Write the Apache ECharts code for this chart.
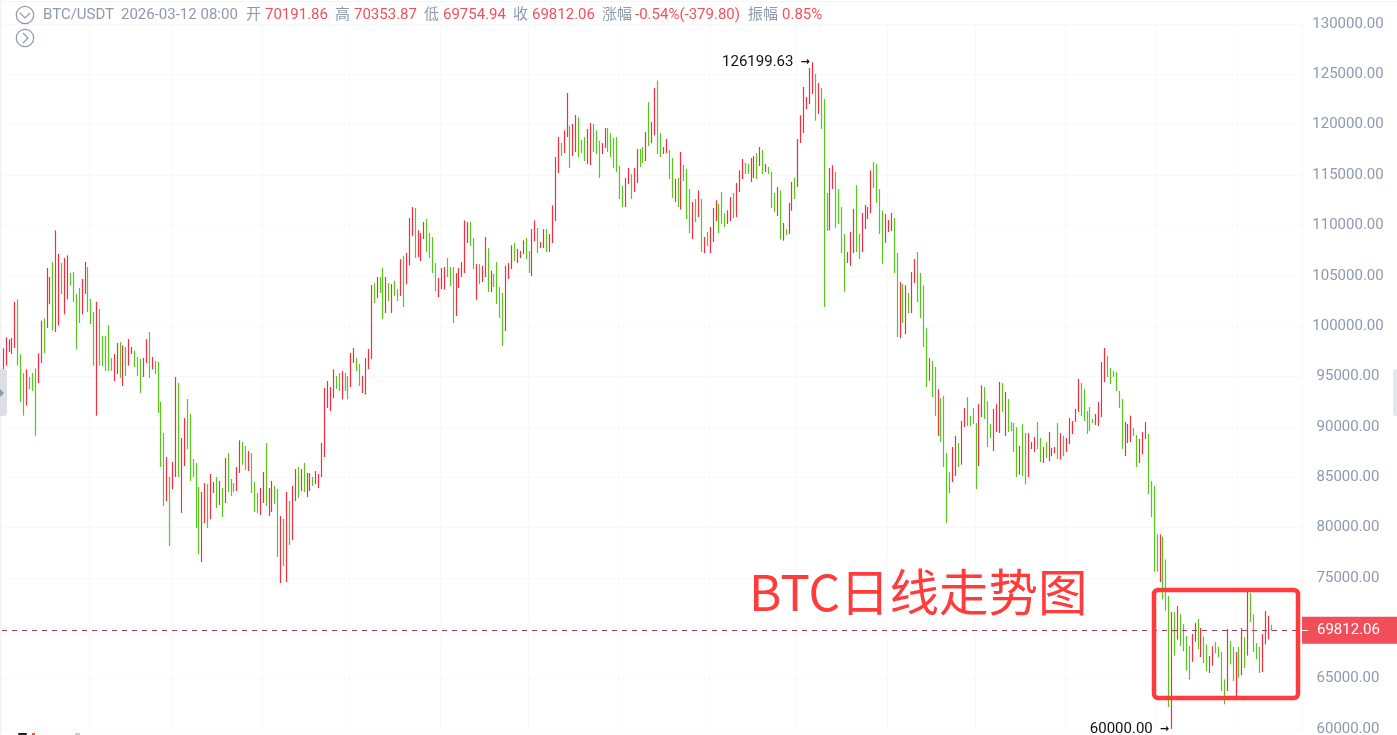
<!DOCTYPE html>
<html><head><meta charset="utf-8"><style>html,body{margin:0;padding:0;background:#fff;overflow:hidden}#c{width:1397px;height:735px}</style>
<script src="https://cdn.jsdelivr.net/npm/echarts@6/dist/echarts.min.js"></script></head><body><div id="c"></div>
<script>
// Daily BTC/USDT, 2025-01-02 .. 2026-03-12. At this zoom each bar only shows its high-low range and direction.
const highs=[97800,98890,98690,98820,102400,102660,97200,95350,95710,94950,
95350,95810,97300,100540,100780,105770,104880,106370,109510,107160,
106270,106770,107030,105280,105380,103190,103790,104680,106370,105870,
102700,101400,102400,101700,99020,99020,100080,96840,97230,98330,
98430,98090,97930,98720,97930,97560,96940,96740,96840,98720,
99420,96940,96540,96440,92470,89390,87010,85020,86510,94950,
94350,88890,90880,92770,91280,86810,86410,84030,83530,84420,
84330,85320,84520,85020,84620,83930,86910,87400,84820,84420,
86010,88660,88500,88100,87600,87400,84520,83430,83930,85520,
88400,83930,84620,84130,83830,81150,80850,83530,82640,84130,
85810,86010,85810,86410,85420,85420,85020,85620,85320,88400,
93860,94550,93960,95710,95050,95350,95550,95350,95050,97330,
97830,96830,96240,95080,96830,97730,104080,104280,104880,104880,
105770,104880,104280,104180,104510,103680,106660,106990,107260,110730,
111830,111730,109510,109240,110340,110630,109240,108850,106270,104780,
105770,105870,106760,105870,105870,105270,105770,106360,110500,110340,
110340,108750,106170,106170,106000,108850,107750,105500,105170,106360,
103880,103290,106000,106270,108020,108250,107660,107460,108520,108750,
107460,109640,110500,109740,108350,109640,109640,109150,111990,116790,
118780,118180,119440,123150,119900,120070,120960,120760,118480,118780,
119570,120170,120070,119440,118410,118180,119670,119670,119170,118680,
118780,115930,113940,114710,115700,115100,115700,117590,117590,117780,
119270,122250,120270,123640,124400,119170,117780,118580,117490,116690,
114610,114710,117290,116000,115600,113610,112330,112620,113490,112620,
108850,109350,109840,111730,112490,112130,113320,111230,111500,112820,
113220,114210,115470,116600,116200,116100,116700,116890,117190,117790,
117490,116100,115800,115310,113220,113820,113490,110240,109650,112230,
114310,114710,118580,120930,123750,122750,125630,126199.63,125040,124140,
123650,122550,113220,115700,115970,115310,113620,111830,109150,107360,
109350,111630,113980,109150,111230,112030,111830,115470,116300,116100,
113620,111470,111140,110540,111230,110740,107260,104380,104180,104050,
103290,105380,106670,107360,105280,104050,99810,96830,96540,95940,
93750,92860,93090,87400,85510,88000,89120,88390,90580,91870,
92960,91070,91870,90380,92260,94120,93950,92560,90280,91770,
92260,94450,94350,93460,92760,90480,90380,89980,88130,90280,
89390,89390,88490,88990,90480,88890,88000,88490,89480,87900,
88000,90380,89390,89120,88890,90870,90580,91770,94750,94350,
93750,91570,91970,90780,91270,92460,96440,97830,97060,95840,
95540,95440,93560,92760,90480,90280,91110,89880,89190,88790,
89480,90480,89290,84620,84120,79330,79330,79100,76840,73200,
71610,71610,72210,71380,70420,69230,68240,69430,70520,70920,
70030,69170,68400,67250,68210,68640,68170,67640,64930,69930,
68740,68140,67640,68140,70030,69130,73670,73500,71380,68540,
68140,69430,71710,71220,70353.87];
const lows=[95740,96080,97430,97230,97830,96080,92470,91110,92100,93730,
93560,89120,94350,96340,97330,99820,102170,99550,99420,100050,
103190,101170,102660,104020,102400,97700,100310,101170,103190,101400,
100180,96080,91110,96080,96040,95550,95550,95550,94550,95250,
94850,94060,95050,96080,97230,95940,95050,93360,94950,96340,
94850,95710,95250,91380,86010,82140,82640,78170,83800,85020,
85020,81450,86110,87770,84620,85020,79960,77340,76580,80450,
79960,80820,83430,81940,82240,81050,82440,83530,83130,83530,
83630,85420,86240,85720,85620,83430,81540,81450,81250,82440,
82140,81150,81540,82340,77080,74490,76180,74590,78270,78760,
82640,82930,83630,83530,83030,83630,84130,84330,83930,85020,
87010,91870,91570,92860,93760,93560,92730,93560,92730,93950,
96340,95540,94050,93360,93220,95740,96730,102290,102790,103290,
100700,101300,102490,101300,102990,102490,102990,101900,104150,106030,
108950,106760,106860,106460,108650,107360,106760,105270,103490,102890,
103680,103620,104880,103980,100310,101000,103780,104880,105270,108250,
107950,105670,102620,104180,104380,104880,103390,103390,103880,102190,
100800,98020,99510,104680,105670,106460,106270,106760,107160,106660,
105270,104970,108450,107260,107750,107750,107360,107360,108250,110440,
115200,116890,117190,118780,115700,116890,117290,116790,117190,116390,
116100,116000,117290,117090,114710,117090,117690,117290,116790,115700,
115300,112620,111830,111830,114110,112620,113320,114210,115800,116200,
116390,117880,118180,118940,117090,116790,117090,117190,114610,112720,
112320,111830,111590,114410,110630,109240,108650,110340,110840,107360,
107260,107960,107260,108350,110440,109250,110140,109840,110140,110440,
110740,110840,113320,114610,115110,115110,114310,114710,114610,115900,
115110,115310,115110,111730,111330,110940,108620,108490,109020,109150,
111470,112620,113820,118190,119180,121560,122060,123050,120400,121070,
119580,101900,109450,109510,113620,109750,110140,107260,103390,106270,
105970,107260,107360,106670,107360,109650,110640,111230,113720,112230,
109150,106170,108260,109350,109450,105280,98920,98820,100310,99190,
101300,101300,104280,102400,100810,97930,93950,94580,92960,91070,
89090,88490,86010,80450,83430,84520,85120,86010,86240,89980,
90080,90080,90280,83820,86110,90970,90780,88000,88890,87600,
89480,89390,91470,89090,89480,89580,87500,85020,85250,85120,
84290,85020,87800,87500,87800,86500,86410,86900,86600,87100,
87400,86800,86740,87100,87500,88290,89290,90480,91470,91070,
90580,89290,89580,90380,90180,90080,90970,94450,94950,94250,
94950,93560,91870,87800,87100,88390,88490,89090,86010,86410,
87270,88790,83330,81040,75620,75620,74590,72870,71750,62180,
60000,67280,68870,68240,67710,65790,64900,66680,68670,67910,
67150,66550,65760,65560,66290,67540,67110,63770,62450,63770,
66420,64760,63270,65090,65330,66050,67280,70620,67640,66910,
65560,65660,68400,68900,69754.94];
// R = close above open (drawn red), G = close below open (drawn green)
const directions=("RRRRRGGGRG"+"GGRRGRRGRR"+"GRRGGGGRRG"+"GGRGGGGGRR"+"GRGRRGGGRR"+"GRGGGGRGRR"+"GRRGGGGGRR"+"GRRGRGRGGG"+"RRGGRGGGRR"+"GRRGGRGRGR"+
"RGRGRRGRRR"+"RRRRGGRGGR"+"RGGRRRRGRG"+"GRGRGGRGRR"+"RGRRRGGGGR"+"RRGGGRRRRR"+"GGRGRRGRGG"+"GGRRRGRRRG"+"GRRGRRGRRR"+"RGRRGRRGGG"+
"RRGGGRRGGG"+"GGGRRGRRGG"+"RGRRGGRRGG"+"RGRGGGRGRG"+"RGRRRGGGRR"+"GRRRGGRRGR"+"GRGGGRGRGR"+"RGRRRRRRGR"+"GGGRRGGGGR"+"RRGGRRRRGG"+
"GGRRRGGRGR"+"GRRGGGGRGG"+"RGGGGRRGRR"+"GGGGRRGGGR"+"RRGRGGGGRG"+"GRRRGGRGRR"+"RGRGRRRRRG"+"GGGGRRRRGG"+"GGGGRRRGGR"+"RRGGGGRGGG"+
"RGRGGGGRRG"+"RGGRRGGGGR"+"GGRGRGRGGG"+"GRRRG");
const yTicks={min:60000,max:130000,step:5000};
const firstDay="2025-01-02";
const dayCount=445; // 435 traded days + 10 empty days on the right
const monthStarts=["2025-02-01","2025-03-01","2025-04-01","2025-05-01","2025-06-01","2025-07-01","2025-08-01","2025-09-01","2025-10-01","2025-11-01","2025-12-01","2026-01-01","2026-02-01","2026-03-01"];
const lastPrice=69812.06, peakDay="2025-10-06", peakPrice=126199.63, troughDay="2026-02-06", troughPrice=60000;
const headerLabels=[["开","70191.86"],["高","70353.87"],["低","69754.94"],["收","69812.06"]];
const UP="#fb2a3f",DOWN="#58c81f",HEAD_RED="#f4505c",MUTED="#8e9aac",GRID="#f7f8fa",MARK="#ff3b3b",DASH="#a83f57";

const categories=[];
for(let i=0;i<dayCount;i++){categories.push(new Date(Date.parse(firstDay+"T00:00:00Z")+i*864e5).toISOString().slice(0,10));}
const rows=highs.map((h,i)=>{const l=lows[i];return directions[i]==="R"?[l,h,l,h]:[h,l,l,h];});

const font="Roboto, 'Noto Sans CJK SC', sans-serif";
const txt=(x,y,text,fill,size)=>({type:"text",z:50,style:{x,y,text,fill,font:(size||15)+"px "+font,textVerticalAlign:"middle"}});
const xs=[[246,265],[335,354],[424,443],[513,532]];
const header=[txt(43,15,"BTC/USDT",MUTED),txt(121,15,"2026-03-12 08:00",MUTED)];
headerLabels.forEach((p,i)=>{header.push(txt(xs[i][0],15,p[0],MUTED));header.push(txt(xs[i][1],15,p[1],HEAD_RED));});
header.push(txt(602,15,"涨幅",MUTED),txt(635,15,"-0.54%(-379.80)",HEAD_RED),txt(748,15,"振幅",MUTED),txt(782,15,"0.85%",HEAD_RED));
const extremeRich={t:{color:"#111",fontSize:15,fontFamily:"Roboto"},a:{color:"#111",fontSize:11,fontWeight:"bold",fontFamily:"DejaVu Sans",padding:[0,0,0,7]}};

const chart=echarts.init(document.getElementById("c"),null,{renderer:"canvas"});
chart.setOption({
 animation:false,backgroundColor:"#fff",
 grid:{left:2,top:24,width:1300,height:705,containLabel:false,outerBoundsMode:"none"},
 xAxis:{type:"category",data:categories,boundaryGap:true,axisLine:{show:false},axisTick:{show:false},axisLabel:{show:false},
  splitLine:{show:true,interval:(i,v)=>monthStarts.includes(v),lineStyle:{color:GRID,width:1}}},
 yAxis:{type:"value",position:"right",min:yTicks.min,max:yTicks.max,interval:yTicks.step,scale:true,
  axisLine:{show:false},axisTick:{show:false},
  axisLabel:{color:MUTED,fontSize:15,fontFamily:"Roboto",margin:46,align:"center",padding:[3,0,0,0],formatter:v=>v.toFixed(2)},
  splitLine:{show:true,lineStyle:{color:GRID,width:1}}},
 series:[{type:"candlestick",data:rows,barWidth:1,clip:false,
  itemStyle:{color:UP,color0:DOWN,borderColor:UP,borderColor0:DOWN,borderWidth:1.2},
  markLine:{silent:true,symbol:"none",animation:false,
   lineStyle:{color:DASH,type:[5,5],width:1,opacity:1},
   label:{show:true,position:"end",distance:0,formatter:()=>lastPrice.toFixed(2),color:"#fff",fontSize:15,fontFamily:"Roboto",backgroundColor:"#f14e5a",padding:[6,18,6,15]},
   data:[{yAxis:lastPrice,lineStyle:{color:DASH,type:[5,5],width:1}}]},
  markPoint:{silent:true,symbol:"circle",symbolSize:0,animation:false,
   label:{show:true,position:"left",distance:3,rich:extremeRich},
   data:[{coord:[peakDay,peakPrice],label:{formatter:"{t|"+peakPrice.toFixed(2)+"}{a|→}"}},
         {coord:[troughDay,troughPrice],label:{formatter:"{t|"+troughPrice.toFixed(2)+"}{a|→}"}}]}
 }],
 graphic:[
  {type:"rect",z:40,shape:{x:0,y:0,width:2,height:735},style:{fill:"#f4f5fb"}},
  {type:"rect",z:40,shape:{x:0,y:1,width:1397,height:1},style:{fill:"#f4f5f7"}},
  {type:"rect",z:60,shape:{x:-4,y:369,width:11,height:47,r:3},style:{fill:"#dcdfe4"}},
  {type:"polygon",z:61,shape:{points:[[0,389],[4,393],[0,397]]},style:{fill:"#8e9aac"}},
  {type:"rect",z:60,shape:{x:1393,y:369,width:10,height:47,r:3},style:{fill:"#e4e6ea"}},
  {type:"circle",z:50,shape:{cx:25,cy:15,r:8.7},style:{fill:"#fff",stroke:MUTED,lineWidth:1.2}},
  {type:"polyline",z:51,shape:{points:[[20,13],[25,18],[30,13]]},style:{fill:"none",stroke:MUTED,lineWidth:1.2}},
  {type:"circle",z:50,shape:{cx:25,cy:38,r:8.7},style:{fill:"#fff",stroke:MUTED,lineWidth:1.2}},
  {type:"polyline",z:51,shape:{points:[[23,33],[28,38],[23,43]]},style:{fill:"none",stroke:MUTED,lineWidth:1.2}},
  ...header,
  {type:"rect",z:70,shape:{x:1154,y:590,width:144,height:108,r:4},style:{fill:"none",stroke:MARK,lineWidth:4.5}},
  {type:"text",z:70,style:{x:749,y:592,text:"BTC日线走势图",fill:MARK,font:"49.5px 'Noto Sans CJK SC', sans-serif",textVerticalAlign:"middle"}},
  {type:"rect",z:71,shape:{x:1302,y:630,width:6,height:1},style:{fill:"#fff"}},
  {type:"rect",z:40,shape:{x:18,y:733,width:9,height:2,r:1},style:{fill:"#222"}},
  {type:"rect",z:40,shape:{x:32,y:733,width:3,height:2},style:{fill:"#f0523c"}},
  {type:"rect",z:40,shape:{x:75,y:733,width:5,height:2},style:{fill:"#ccc"}}
 ]
});
</script></body></html>
